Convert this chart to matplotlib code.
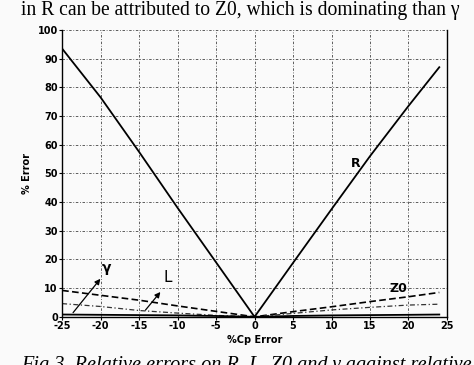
import numpy as np
import matplotlib.pyplot as plt

plt.rcParams["axes.unicode_minus"] = False

# relative errors
cp_err = [-25, -20, -15, -10, -5, 0, 5, 10, 15, 20, 24]
r_err = [93.5, 76.5, 57.5, 38.0, 19.0, 0.0, 18.8, 37.5, 56.0, 73.5, 87.0]
z0_err = [9.2, 7.5, 5.8, 3.8, 1.9, 0.0, 1.8, 3.5, 5.3, 7.0, 8.5]
l_err = [4.6, 3.6, 2.2, 1.3, 0.5, 0.0, 1.2, 2.4, 3.3, 4.1, 4.4]
g_err = [0.8, 0.7, 0.6, 0.5, 0.3, 0.0, 0.3, 0.5, 0.6, 0.7, 0.8]

xticks = np.arange(-25, 26, 5)
yticks = np.arange(0, 101, 10)

fig = plt.figure(figsize=(4.74, 3.65), dpi=100)
fig.patch.set_facecolor("#fafafa")
ax = fig.add_axes([0.131, 0.132, 0.812, 0.786])
ax.set_facecolor("#fafafa")

ax.plot(cp_err, r_err, color="black", lw=1.3)
ax.plot(cp_err, z0_err, color="black", lw=1.2, ls=(0, (4, 2)))
ax.plot(cp_err, l_err, color="#333333", lw=0.9, ls=(0, (4, 2, 1, 2)))
ax.plot(cp_err, g_err, color="black", lw=1.3)

ax.set_xlim(-25, 25)
ax.set_ylim(0, 100)
ax.set_xticks(xticks)
ax.set_yticks(yticks)
ax.grid(True, color="#444444", ls=(0, (3, 2, 1, 2)), lw=0.6)
ax.spines["top"].set_visible(False)
ax.spines["right"].set_linestyle((0, (6, 1)))
for s in ax.spines.values():
    s.set_linewidth(1.0)
ax.tick_params(length=2, width=0.8, labelsize=7, pad=1)
for lab in ax.get_xticklabels() + ax.get_yticklabels():
    lab.set_fontweight("bold")

ax.set_xlabel("%Cp Error", fontsize=7, fontweight="bold", labelpad=3)
ax.set_ylabel("% Error", fontsize=7, fontweight="bold", labelpad=4)

ax.text(13.1, 53.5, "R", fontsize=9, fontweight="bold", ha="center", va="center")
ax.text(18.7, 9.8, "Z0", fontsize=9, fontweight="bold", ha="center", va="center")
ax.text(-11.3, 13.8, "L", fontsize=11, ha="center", va="center")
ax.text(-19.3, 17.0, "γ", fontsize=10, fontweight="bold", ha="center", va="center")
ax.annotate("", xy=(-19.8, 14.0), xytext=(-23.8, 0.7),
            arrowprops=dict(arrowstyle="-|>", color="black", lw=0.9, mutation_scale=8))
ax.annotate("", xy=(-12.0, 9.4), xytext=(-14.4, 1.6),
            arrowprops=dict(arrowstyle="-|>", color="black", lw=0.9, mutation_scale=8))

fig.text(0.044, 0.958, "in R can be attributed to Z0, which is dominating than γ",
         family="Liberation Serif", fontsize=14.1, va="baseline")
fig.text(0.045, -0.015, "Fig 3. Relative errors on R, L, Z0 and γ against relative",
         family="Liberation Serif", style="italic", fontsize=14.6, va="baseline")

fig.savefig("out.png", dpi=100, facecolor=fig.get_facecolor())
